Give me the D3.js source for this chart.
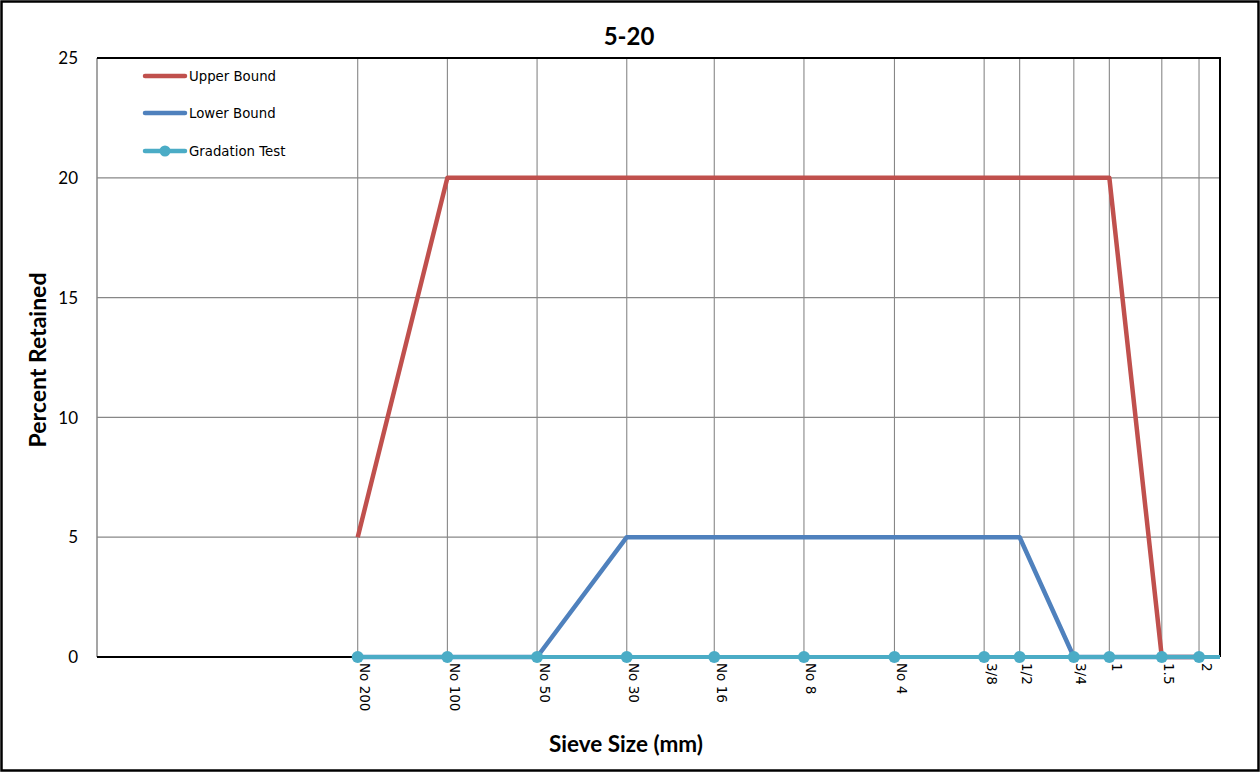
<!DOCTYPE html>
<html>
<head>
<meta charset="utf-8">
<script src="https://cdn.jsdelivr.net/npm/d3@7"></script>
<style>
  html, body { margin: 0; padding: 0; background: #fff; }
  svg { display: block; }
</style>
</head>
<body>
<svg id="chart" width="1260" height="772"></svg>
<script>
// ---- Data ----
const sieveLabels = ["No 200","No 100","No 50","No 30","No 16","No 8","No 4","3/8","1/2","3/4","1","1.5","2"];
const sieveSizes  = [0.075, 0.15, 0.3, 0.6, 1.18, 2.36, 4.75, 9.5, 12.5, 19, 25, 37.5, 50];
const upperBound  = [5, 20, 20, 20, 20, 20, 20, 20, 20, 20, 20, 0, 0];
const lowerBound  = [0, 0, 0, 5, 5, 5, 5, 5, 5, 0, 0, 0, 0];
const gradationSizes  = [0.075, 0.15, 0.3, 0.6, 1.18, 2.36, 4.75, 9.5, 12.5, 19, 25, 37.5, 50, 63];
const gradationValues = [0, 0, 0, 0, 0, 0, 0, 0, 0, 0, 0, 0, 0, 0];
const yTicks = [0, 5, 10, 15, 20, 25];
const seriesNames = ["Upper Bound", "Lower Bound", "Gradation Test"];

// ---- Layout ----
const W = 1260, H = 772;
const plot = { left: 97, right: 1220, top: 58, bottom: 657 };
const colors = { upper: "#C0504D", lower: "#4F81BD", grad: "#4BACC6" };

const svg = d3.select("#chart");
svg.append("rect").attr("x", 0).attr("y", 0).attr("width", W).attr("height", H).attr("fill", "#fff");
svg.append("rect").attr("x", 1.5).attr("y", 1.5).attr("width", W - 3).attr("height", H - 3)
  .attr("fill", "none").attr("stroke", "#000").attr("stroke-width", 2.5);

const x = d3.scaleLog().domain([0.01, 58.8]).range([plot.left, plot.right]);
const y = d3.scaleLinear().domain([0, 25]).range([plot.bottom, plot.top]);

// clip (x only)
svg.append("defs").append("clipPath").attr("id", "clipx")
  .append("rect").attr("x", plot.left).attr("y", 0).attr("width", plot.right - plot.left).attr("height", H);

const g = svg.append("g");

// horizontal gridlines
g.selectAll("line.hgrid").data(yTicks.filter(v => v > 0 && v < 25)).enter().append("line")
  .attr("x1", plot.left).attr("x2", plot.right)
  .attr("y1", d => y(d)).attr("y2", d => y(d))
  .attr("stroke", "#878787").attr("stroke-width", 1.3);

// vertical gridlines at sieves
g.selectAll("line.vgrid").data(sieveSizes).enter().append("line")
  .attr("x1", d => x(d)).attr("x2", d => x(d))
  .attr("y1", y(25)).attr("y2", y(0))
  .attr("stroke", "#878787").attr("stroke-width", 1.1);

// left axis (gray)
g.append("line").attr("x1", plot.left).attr("x2", plot.left).attr("y1", plot.top).attr("y2", plot.bottom)
  .attr("stroke", "#878787").attr("stroke-width", 1.5);
// top & right border (black)
g.append("line").attr("x1", plot.left).attr("x2", plot.right + 1).attr("y1", plot.top).attr("y2", plot.top)
  .attr("stroke", "#000").attr("stroke-width", 2);
g.append("line").attr("x1", plot.right).attr("x2", plot.right).attr("y1", plot.top).attr("y2", plot.bottom)
  .attr("stroke", "#000").attr("stroke-width", 2);
// bottom axis (black)
g.append("line").attr("x1", plot.left).attr("x2", plot.right).attr("y1", plot.bottom).attr("y2", plot.bottom)
  .attr("stroke", "#000").attr("stroke-width", 2);

// y tick labels
g.selectAll("text.ytick").data(yTicks).enter().append("text")
  .attr("x", 78).attr("y", d => y(d)).attr("dy", "0.36em")
  .attr("text-anchor", "end")
  .attr("font-family", "Lato, 'Open Sans', sans-serif").attr("font-size", 17)
  .attr("fill", "#000")
  .text(d => d);

// x tick labels (rotated)
g.selectAll("text.xtick").data(sieveSizes).enter().append("text")
  .attr("transform", d => `translate(${x(d) + 2.5},${plot.bottom + 6}) rotate(90)`)
  .attr("text-anchor", "start")
  .attr("font-family", "'DejaVu Sans', Verdana, sans-serif").attr("font-size", 13.5)
  .attr("fill", "#000")
  .text((d, i) => sieveLabels[i]);

// lines
const line = d3.line().x(d => x(d[0])).y(d => y(d[1]));
const clipG = g.append("g").attr("clip-path", "url(#clipx)");

clipG.append("path").datum(sieveSizes.map((s, i) => [s, upperBound[i]]))
  .attr("d", line).attr("fill", "none").attr("stroke", colors.upper)
  .attr("stroke-width", 4.5).attr("stroke-linejoin", "round");
clipG.append("path").datum(sieveSizes.map((s, i) => [s, lowerBound[i]]))
  .attr("d", line).attr("fill", "none").attr("stroke", colors.lower)
  .attr("stroke-width", 4.5).attr("stroke-linejoin", "round");
const gradData = gradationSizes.map((s, i) => [s, gradationValues[i]]);
clipG.append("path").datum(gradData)
  .attr("d", line).attr("fill", "none").attr("stroke", colors.grad)
  .attr("stroke-width", 4).attr("stroke-linejoin", "round");
clipG.selectAll("circle.gm").data(gradData).enter().append("circle")
  .attr("cx", d => x(d[0])).attr("cy", d => y(d[1])).attr("r", 6)
  .attr("fill", colors.grad);

// legend
const legend = svg.append("g");
const legendYs = [76, 113, 151];
const legendColors = [colors.upper, colors.lower, colors.grad];
seriesNames.forEach((name, i) => {
  legend.append("line").attr("x1", 145).attr("x2", 185).attr("y1", legendYs[i]).attr("y2", legendYs[i])
    .attr("stroke", legendColors[i]).attr("stroke-width", 4.5).attr("stroke-linecap", "round");
  if (i === 2) {
    legend.append("circle").attr("cx", 165).attr("cy", legendYs[i]).attr("r", 5.5).attr("fill", legendColors[i]);
  }
  legend.append("text").attr("x", 189).attr("y", legendYs[i]).attr("dy", "0.36em")
    .attr("font-family", "'DejaVu Sans', Verdana, sans-serif").attr("font-size", 13.3)
    .attr("fill", "#000").text(name);
});

// titles
svg.append("text").attr("x", 629).attr("y", 36).attr("dy", "0.36em").attr("text-anchor", "middle")
  .attr("font-family", "Lato, sans-serif").attr("font-weight", "bold").attr("font-size", 24)
  .text("5-20");
svg.append("text").attr("x", 626).attr("y", 744).attr("dy", "0.36em").attr("text-anchor", "middle")
  .attr("font-family", "Lato, sans-serif").attr("font-weight", "bold").attr("font-size", 22.5)
  .text("Sieve Size (mm)");
svg.append("text").attr("transform", "translate(38,360) rotate(-90)").attr("dy", "0.36em")
  .attr("text-anchor", "middle")
  .attr("font-family", "Lato, sans-serif").attr("font-weight", "bold").attr("font-size", 23)
  .text("Percent Retained");
</script>
</body>
</html>
